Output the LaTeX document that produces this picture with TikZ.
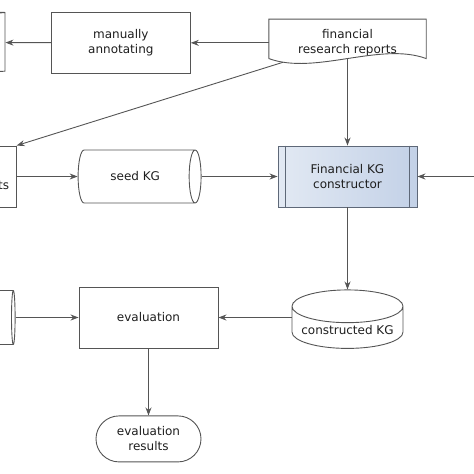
\documentclass[tikz,border=0pt]{standalone}
\usepackage{fontspec}
\setmainfont{DejaVu Sans}
\usetikzlibrary{arrows.meta,positioning,calc,shapes.geometric}
\definecolor{edge}{HTML}{555555}
\definecolor{ink}{HTML}{1E1E1E}
\definecolor{cnsL}{HTML}{E2E9F3}
\definecolor{cnsR}{HTML}{C3D1E7}
\definecolor{cnsB}{HTML}{5E6878}

\begin{document}
\begin{tikzpicture}[x=1pt,y=-1pt,node distance=60pt,
  every node/.style={font=\fontsize{12}{15}\selectfont,text=ink},
  box/.style={draw=edge,line width=0.9pt,minimum width=139pt,minimum height=61pt,align=center,inner sep=2pt},
  drum/.style={draw=edge,line width=0.9pt,cylinder,align=center,inner sep=2pt},
  flow/.style={-{Stealth[length=8pt,width=6pt]},draw=edge,line width=0.9pt}]
  \useasboundingbox (0,0) rectangle (474,474);
  \clip (0,0) rectangle (474,474);

  % middle row
  \node[box,draw=cnsB,left color=cnsL,right color=cnsR] (cons) at (347.5,176.5) {Financial KG\\constructor};
  \draw[cnsB,line width=0.9pt] ([xshift=8pt]cons.north west) -- ([xshift=8pt]cons.south west)
    ([xshift=-8pt]cons.north east) -- ([xshift=-8pt]cons.south east);
  \node[drum,aspect=0.9,minimum width=53pt,minimum height=123pt,left=76pt of cons] (seed) {seed KG};
  \node[box,text width=125pt,align=right,left=61pt of seed] (src) {\strut\\cts};
  \coordinate[right=70pt of cons] (rin);

  % top row
  \node[minimum width=157pt,minimum height=47pt,inner sep=0pt,align=center,above=79pt of cons] (rep) {financial\\research reports};
  \draw[edge,line width=0.9pt] ($(rep.south west)+(0,-8)$) -- (rep.north west) -- (rep.north east) -- ($(rep.south east)+(0,-8)$)
    .. controls ($(rep.south east)+(-46,-25)$) and ($(rep.south west)+(46,9)$) .. ($(rep.south west)+(0,-8)$)
    coordinate[pos=0.5] (repm) coordinate[pos=0.9] (repd);
  \node[box,left=78pt of rep] (ann) {manually\\annotating};
  \node[drum,shape border rotate=90,aspect=0.36,minimum width=90pt,minimum height=60pt] (kb) at (-40,42.5) {};

  % bottom rows
  \node[drum,shape border rotate=90,aspect=0.34,minimum width=111pt,minimum height=56pt,below=82pt of cons] (ckg) {constructed KG};
  \node[box] (eval) at (148.5,317.5) {evaluation};
  \node[drum,aspect=0.9,minimum width=54pt,minimum height=123pt,left=63pt of eval] (gold) {};
  \node[draw=edge,line width=0.9pt,rounded corners=23pt,minimum width=105pt,minimum height=46pt,align=center,inner sep=2pt,below=67pt of eval] (res) {evaluation\\results};

  % connectors
  \draw[flow] (rep) -- (ann);
  \draw[flow] (ann) -- (kb);
  \draw[flow] (repd) -- (src.north east);
  \draw[flow] (src) -- (seed);
  \draw[flow] (seed) -- (cons);
  \draw[flow] (repm) -- (cons);
  \draw[flow] (rin) -- (cons);
  \draw[flow] (cons) -- (ckg);
  \draw[flow] (ckg.west |- eval) -- (eval);
  \draw[flow] (gold) -- (eval);
  \draw[flow] (eval) -- (res);
\end{tikzpicture}
\end{document}
